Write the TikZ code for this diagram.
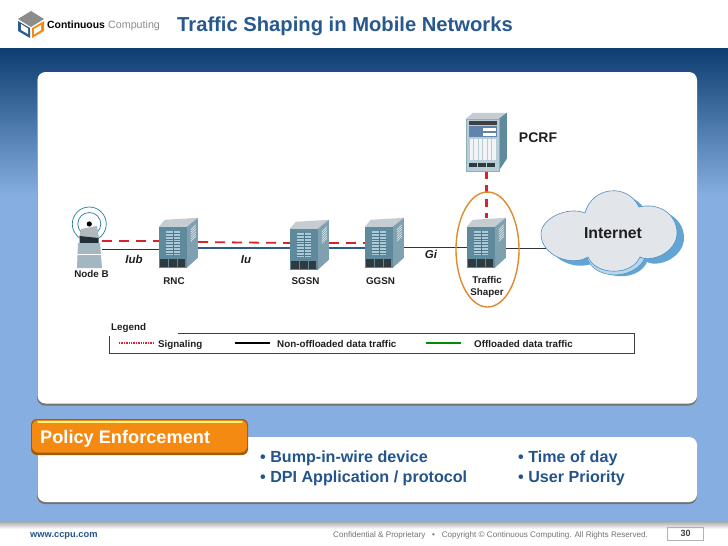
\documentclass[tikz,border=0pt]{standalone}
\usepackage{fontspec}
\setmainfont{Liberation Sans}
\usetikzlibrary{calc}
\definecolor{titleblue}{HTML}{27598F}
\definecolor{bluetop}{HTML}{0C3D70}
\definecolor{bluebg}{HTML}{86AEE0}
\definecolor{textblue}{HTML}{24548A}
\definecolor{sigred}{HTML}{D5252B}
\definecolor{linkblue}{HTML}{2C5C8E}
\definecolor{ringor}{HTML}{E08A2E}
\definecolor{tabor}{HTML}{F58A12}
\definecolor{cloudfill}{HTML}{E2E6EA}
\definecolor{cloudedge}{HTML}{4F8FBE}
\definecolor{cloudback}{HTML}{62A5D4}
\definecolor{srvfront}{HTML}{5F8A9C}
\definecolor{srvside}{HTML}{7FA0AF}
\definecolor{srvtop}{HTML}{C6CDD2}
\definecolor{srvvent}{HTML}{A9CBDA}
\definecolor{srvdark}{HTML}{2F3A40}
\tikzset{
  x=1pt,y=-1pt,
  lbl/.style={inner sep=0pt,anchor=base,font=\bfseries\fontsize{9.8}{11}\selectfont,text=black!88},
  lblw/.style={lbl,anchor=base west},
  biglbl/.style={lbl,font=\bfseries\fontsize{14}{16}\selectfont},
  ital/.style={lbl,font=\bfseries\itshape\fontsize{11.5}{13}\selectfont},
  bullet/.style={inner sep=0pt,anchor=base west,text=textblue,font=\bfseries\fontsize{16.1}{18}\selectfont},
  slot/.style={minimum width=39pt,minimum height=50pt,inner sep=0pt},
  signal/.style={draw=sigred,line width=1.8pt,dash pattern=on 10pt off 7pt},
  datablack/.style={draw=black!80,line width=1pt},
  datablue/.style={draw=linkblue,line width=1.3pt},
  panel/.style={fill=white,rounded corners=8pt},
  panelshade/.style={fill=black!55,rounded corners=8pt},
  serverpic/.pic={
    \fill[srvtop] (0,9)--(6,2)--(39,0)--(28,9)--cycle;
    \fill[srvside] (28,9)--(39,0)--(39,40)--(28,50)--cycle;
    \foreach \k in {0,...,5}{\draw[white!70!srvside,line width=.7pt] (32,{12+\k*2.3})--(37,{7+\k*2.3});}
    \fill[srvfront] (0,9) rectangle (28,50);
    \fill[srvvent] (7,13) rectangle (21,37);
    \foreach \k in {0,...,7}{\draw[srvfront!85!black,line width=.6pt] (7,{15.5+\k*2.8})--(21,{15.5+\k*2.8});}
    \draw[srvfront!85!black,line width=.6pt] (14,13)--(14,37);
    \foreach \k in {0,1,2}{\fill[srvdark] ({1.5+\k*8.7},41) rectangle ++(7.5,8);}
  },
  pcrfpic/.pic={
    \fill[srvtop] (0,6)--(7,0)--(41,0)--(33,6)--cycle;
    \fill[srvfront] (33,6)--(41,0)--(41,46)--(33,58)--cycle;
    \fill[srvvent!55!srvtop] (0,6) rectangle (33,58);
    \fill[black!75] (3,8) rectangle (31,12);
    \fill[linkblue!75!white] (3,13) rectangle (31,24);
    \fill[white] (17,15) rectangle (30,18);
    \fill[white] (17,20) rectangle (30,23);
    \foreach \k in {0,...,5}{\fill[white!75!srvtop] ({4+\k*4.5},26) rectangle ++(3.2,21);}
    \foreach \k in {0,1,2}{\fill[srvdark] ({3.5+\k*9},50) rectangle ++(8,4);}
    \draw[srvfront!70!white,line width=.5pt] (0,6) rectangle (33,58);
  }
}
\begin{document}
\begin{tikzpicture}
\useasboundingbox (0,0) rectangle (728,546);
% background
\fill[white] (0,0) rectangle (728,546);
\shade[top color=bluetop,bottom color=bluebg] (0,48) rectangle (728,195);
\fill[bluebg] (0,195) rectangle (728,521);
\shade[top color=black!35,bottom color=white] (0,521) rectangle (728,529);
% logo
\fill[black!45] (18,19)--(31,11)--(44,19)--(31,27)--cycle;
\fill[linkblue] (18,21)--(30,28)--(30,38)--(18,31)--cycle;
\fill[tabor] (32,28)--(44,21)--(44,31)--(32,38)--cycle;
\fill[white] (21,24)--(28,28.5)--(28,34)--(21,30)--cycle;
\fill[white] (34,29)--(41,25)--(41,30)--(34,34.5)--cycle;
\node[inner sep=0pt,anchor=base west,font=\bfseries\fontsize{10.4}{11}\selectfont] (logoa) at (47,28) {Continuous};
\node[inner sep=0pt,anchor=base west,font=\fontsize{10.7}{11}\selectfont,text=black!45] (logob) at (108,28) {Computing};
% title
\node[inner sep=0pt,anchor=base west,font=\bfseries\fontsize{20.2}{23}\selectfont,text=titleblue] (title) at (177,31) {Traffic Shaping in Mobile Networks};
% panels
\fill[panelshade] (37,74) rectangle (697,405.5);
\fill[panel] (37.5,72) rectangle (697,403.5);
\fill[panelshade] (37,439) rectangle (697,504);
\fill[panel] (37.5,437) rectangle (697,502);
% device slots
\node[slot] (rnc) at (178.5,243) {};
\node[slot] (sgsn) at (309.5,245) {};
\node[slot] (ggsn) at (384.5,243) {};
\node[slot] (shaper) at (486.5,243) {};
\node[slot,minimum width=41pt,minimum height=58pt] (pcrf) at (486.5,142) {};
\node[minimum width=24pt,minimum height=41pt,inner sep=0pt] (nodeb) at (90,247.5) {};
\coordinate (cloudin) at (546,248);
% cloud
\begin{scope}[shift={(7,5)}]
\fill[cloudback] (541,234) .. controls (541,218) and (568,206) .. (585,213)
  .. controls (592,186) and (628,183) .. (639,207)
  .. controls (660,202) and (677,215) .. (677,233)
  .. controls (677,252) and (652,263) .. (640,257)
  .. controls (632,276) and (596,276) .. (588,257)
  .. controls (572,267) and (541,256) .. (541,234) -- cycle;
\end{scope}
\draw[cloudedge,fill=white!55!cloudback,line width=.5pt] (586,255) .. controls (592,281) and (634,281) .. (645,258) -- cycle;
\draw[cloudedge,fill=cloudfill,line width=.6pt] (541,234) .. controls (541,218) and (568,206) .. (585,213)
  .. controls (592,186) and (628,183) .. (639,207)
  .. controls (660,202) and (677,215) .. (677,233)
  .. controls (677,252) and (652,263) .. (640,257)
  .. controls (632,276) and (596,276) .. (588,257)
  .. controls (572,267) and (541,256) .. (541,234) -- cycle;
% connectors
\draw[datablack] (nodeb.east |- 0,249) -- (rnc.west |- 0,249);
\draw[datablue] (rnc.east |- 0,248) -- (sgsn.west |- 0,248);
\draw[datablue] (sgsn.east |- 0,248) -- (ggsn.west |- 0,248);
\draw[datablack] (ggsn.east |- 0,247) -- (shaper.west |- 0,247);
\draw[datablack] (shaper.east |- 0,248) -- (cloudin);
\draw[signal] (nodeb.east |- 0,241) -- (rnc.west |- 0,241);
\draw[signal] (rnc.east |- 0,242) -- (sgsn.west |- 0,243);
\draw[signal] (sgsn.east |- 0,243) -- (ggsn.west |- 0,243);
\draw[signal,line width=2.2pt,dash pattern=on 8pt off 6pt] (pcrf.south) -- (shaper.north);
% node B
\foreach \r in {17,11.5}{\draw[linkblue!80!cyan,line width=.7pt] (89.3,224) circle (\r);}
\fill[black] (89.3,224) circle (2.6);
\fill[srvtop!90!black] (81,229) -- (97,226) -- (99,238) -- (79,238) -- cycle;
\fill[black!65!srvfront] (79.5,236) -- (98.5,238) -- (98.5,243) -- (79.5,243) -- cycle;
\fill[srvside!50!srvtop] (78,243) -- (100,243) -- (102,268) -- (77,268) -- cycle;
\draw[white,line width=.6pt] (78,254)--(101,254);
% servers
\path (rnc.north west) pic {serverpic};
\path (sgsn.north west) pic {serverpic};
\path (ggsn.north west) pic {serverpic};
\path (shaper.north west) pic {serverpic};
\path (pcrf.north west) pic {pcrfpic};
% ellipse
\draw[ringor,line width=1.4pt] (487.5,249.5) ellipse [x radius=31.5,y radius=57.5];
% labels
\node[lbl] (lnodeb) at (91.5,277) {Node B};
\node[lbl] (lrnc) at (174,284) {RNC};
\node[lbl] (lsgsn) at (305.5,284) {SGSN};
\node[lbl] (lggsn) at (380.5,284) {GGSN};
\node[lbl] (ltraffic) at (487,283) {Traffic};
\node[lbl] (lshaper) at (487,295) {Shaper};
\node[biglbl] (lpcrf) at (538,142) {PCRF};
\node[lbl,font=\bfseries\fontsize{15.8}{18}\selectfont] (linternet) at (613,238) {Internet};
\node[ital] (liub) at (134,263) {Iub};
\node[ital] (liu) at (246,263) {Iu};
\node[ital] (lgi) at (431,258) {Gi};
% legend
\node[lblw] (llegend) at (111,330) {Legend};
\draw[black!75,line width=.9pt] (178,333) -- (634,333) -- (634,353) -- (109,353) -- (109,336);
\coordinate (sa) at (119,343); \coordinate (sb) at (153,343);
\coordinate (na) at (235,343); \coordinate (nb) at (270,343);
\coordinate (oa) at (426,343); \coordinate (ob) at (461,343);
\draw[sigred,line width=1.1pt,dash pattern=on 1.3pt off 1.1pt] (sa) -- (sb);
\draw[black,line width=1.2pt] (na) -- (nb);
\draw[green!55!black,line width=1.3pt] (oa) -- (ob);
\node[lblw] (lsig) at (158,347) {Signaling};
\node[lblw] (lnon) at (277,347) {Non-offloaded data traffic};
\node[lblw] (loff) at (474,347) {Offloaded data traffic};
% tab
\fill[black!35!tabor,rounded corners=6pt] (31,419) rectangle (248,455);
\fill[tabor,rounded corners=6pt] (32,420) rectangle (247,452.5);
\draw[yellow!50!white,line width=1.2pt,line cap=round] (38,422)--(242,422);
\node[inner sep=0pt,anchor=base west,text=white,font=\bfseries\fontsize{18.2}{20}\selectfont] (ltab) at (40,443.5) {Policy Enforcement};
% bullets
\node[bullet] (b1) at (260,462) {• Bump-in-wire device};
\node[bullet] (b2) at (260,482) {• DPI Application / protocol};
\node[bullet] (b3) at (518,462) {• Time of day};
\node[bullet] (b4) at (518,482) {• User Priority};
% footer
\node[inner sep=0pt,anchor=base west,text=textblue,font=\bfseries\fontsize{9.3}{11}\selectfont] (www) at (30,537) {www.ccpu.com};
\node[inner sep=0pt,anchor=base west,text=black!55,font=\fontsize{8.1}{10}\selectfont] (conf) at (333,537) {Confidential \& Proprietary\ \ \ •\ \ \ Copyright © Continuous Computing. All Rights Reserved.};
\node[draw=black!30,line width=.6pt,minimum width=36pt,minimum height=13pt,inner sep=0pt,text=black!75,font=\bfseries\fontsize{9}{10}\selectfont] (page) at (685.5,533.5) {30};
\end{tikzpicture}
\end{document}
